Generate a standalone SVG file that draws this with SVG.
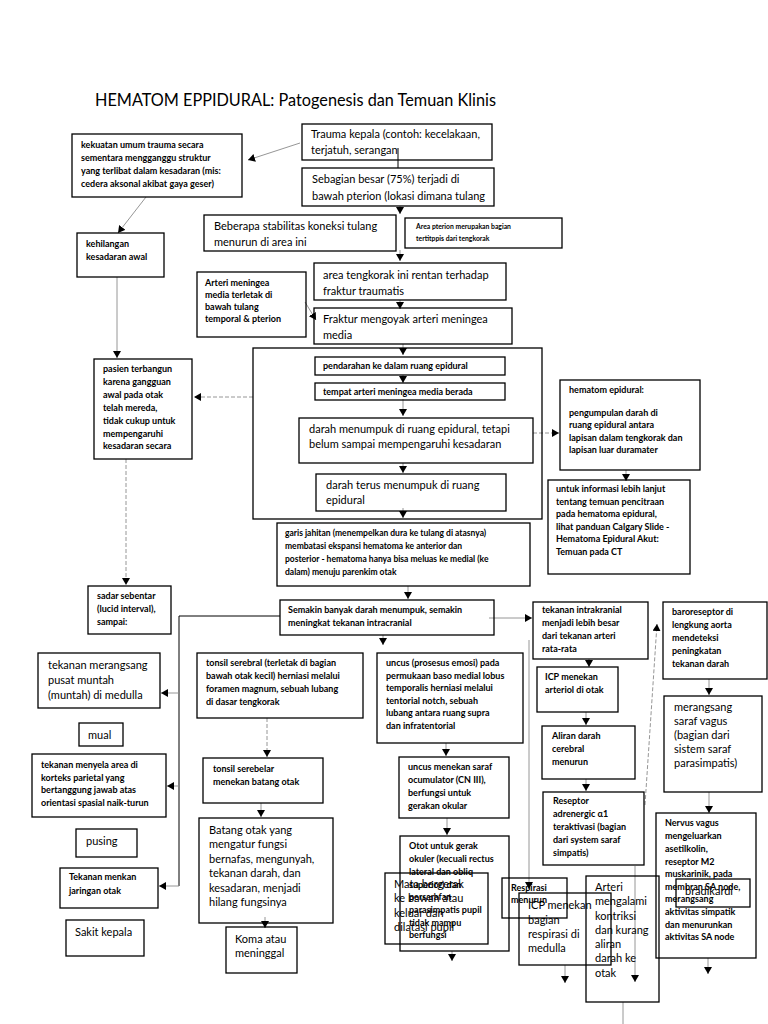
<svg xmlns="http://www.w3.org/2000/svg" width="768" height="1024" viewBox="0 0 768 1024">
<style>
.bx{fill:none;stroke:#000;stroke-width:1.3}
.r{font-family:Lato,"Open Sans","Liberation Sans",sans-serif;font-size:11px;fill:#000}
.b{font-family:Lato,"Open Sans","Liberation Sans",sans-serif;font-size:9px;font-weight:bold;fill:#000}
.c{fill:none;stroke:#8a8a8a;stroke-width:0.9}
.d{fill:none;stroke:#8a8a8a;stroke-width:0.9;stroke-dasharray:4 2}
.k{fill:none;stroke:#000;stroke-width:1}
</style>
<defs>
<marker id="ah" markerUnits="userSpaceOnUse" markerWidth="8" markerHeight="8" refX="7" refY="4" orient="auto"><path d="M0,0 L7,4 L0,8 z" fill="#000"/></marker>
</defs>
<rect width="768" height="1024" fill="#fff"/>
<text x="95" y="106" font-family="Lato,'Open Sans','Liberation Sans',sans-serif" font-size="17" fill="#000" textLength="401" lengthAdjust="spacingAndGlyphs">HEMATOM EPPIDURAL: Patogenesis dan Temuan Klinis</text>

<g id="connectors">
<path class="c" d="M300,143 L248,160" marker-end="url(#ah)"/>
<path class="c" d="M146,197 L118,233" marker-end="url(#ah)"/>
<path class="k" d="M398,148 L398,168"/>
<path class="c" d="M400,206 L400,214" marker-end="url(#ah)"/>
<path class="c" d="M400,250 L400,261" marker-end="url(#ah)"/>
<path class="c" d="M400,300 L400,309" marker-end="url(#ah)"/>
<path class="c" d="M403,344 L403,355" marker-end="url(#ah)"/>
<path class="c" d="M403,375 L403,383" marker-end="url(#ah)"/>
<path class="c" d="M403,399 L403,416" marker-end="url(#ah)"/>
<path class="c" d="M403,463 L403,473" marker-end="url(#ah)"/>
<path class="c" d="M403,508 L403,518" marker-end="url(#ah)"/>
<path class="c" d="M305,302 L316,320" marker-end="url(#ah)"/>
<path class="d" d="M253,397 L194,397" marker-end="url(#ah)"/>
<path class="d" d="M533,433 L559,433" marker-end="url(#ah)"/>
<path class="c" d="M626,470 L626,481" marker-end="url(#ah)"/>
<path class="c" d="M117,277 L117,358" marker-end="url(#ah)"/>
<path class="d" d="M126,459 L126,585" marker-end="url(#ah)"/>
<path class="c" d="M408,586 L408,599" marker-end="url(#ah)"/>
<path class="k" d="M280,616 L179,616 L179,886"/>
<path class="c" d="M179,693 L161,693" marker-end="url(#ah)"/>
<path class="c" d="M179,786 L167,786" marker-end="url(#ah)"/>
<path class="c" d="M179,886 L159,886" marker-end="url(#ah)"/>
<path class="c" d="M489,618 L532,618" marker-end="url(#ah)"/>
<path class="c" d="M383,635 L383,645" marker-end="url(#ah)"/>
<path class="d" d="M267,718 L267,757" marker-end="url(#ah)"/>
<path class="c" d="M446,743 L446,756" marker-end="url(#ah)"/>
<path class="c" d="M261,803 L261,817" marker-end="url(#ah)"/>
<path class="c" d="M265,917 L265,928" marker-end="url(#ah)"/>
<path class="c" d="M447,818 L447,835" marker-end="url(#ah)"/>
<path class="c" d="M452,951 L452,961" marker-end="url(#ah)"/>
<path class="c" d="M589,659 L589,667" marker-end="url(#ah)"/>
<path class="c" d="M586,712 L586,725" marker-end="url(#ah)"/>
<path class="c" d="M586,779 L586,791" marker-end="url(#ah)"/>
<path class="d" d="M645,805 L657,624" marker-end="url(#ah)"/>
<path class="c" d="M709,679 L709,695" marker-end="url(#ah)"/>
<path class="c" d="M709,792 L709,813" marker-end="url(#ah)"/>
<path class="c" d="M708,958 L708,974" marker-end="url(#ah)"/>
<path class="c" d="M529,640 L529,889" marker-end="url(#ah)"/>
<path class="c" d="M565,965 L565,983" marker-end="url(#ah)"/>
<path class="c" d="M635,866 L635,982" marker-end="url(#ah)"/>
<path class="c" d="M623,1002 L623,1024"/>
</g>

<g id="n-kekuatan"><rect class="bx" x="72" y="134" width="170" height="63"/>
<text class="b"><tspan x="81" y="148">kekuatan umum trauma secara</tspan><tspan x="81" y="161">sementara mengganggu struktur</tspan><tspan x="81" y="174">yang terlibat dalam kesadaran (mis:</tspan><tspan x="81" y="187">cedera aksonal akibat gaya geser)</tspan></text></g>

<g id="n-trauma"><rect class="bx" x="302" y="124" width="190" height="36"/>
<text class="r"><tspan x="311" y="138">Trauma kepala (contoh: kecelakaan,</tspan><tspan x="311" y="154">terjatuh, serangan</tspan></text></g>

<g id="n-sebagian"><rect class="bx" x="302" y="168" width="192" height="38"/>
<text class="r"><tspan x="312" y="183">Sebagian besar (75%) terjadi di</tspan><tspan x="312" y="200">bawah pterion (lokasi dimana tulang</tspan></text></g>

<g id="n-beberapa"><rect class="bx" x="204" y="215" width="192" height="36"/>
<text class="r"><tspan x="214" y="230">Beberapa stabilitas koneksi tulang</tspan><tspan x="214" y="246">menurun di area ini</tspan></text></g>

<g id="n-areapterion"><rect class="bx" x="405" y="218" width="157" height="30"/>
<text class="b" style="font-size:6.8px"><tspan x="416" y="229">Area pterion merupakan bagian</tspan><tspan x="416" y="241">tertitppis dari tengkorak</tspan></text></g>

<g id="n-areatengkorak"><rect class="bx" x="314" y="263" width="192" height="37"/>
<text class="r"><tspan x="323" y="279">area tengkorak ini rentan terhadap</tspan><tspan x="323" y="295">fraktur traumatis</tspan></text></g>

<g id="n-fraktur"><rect class="bx" x="314" y="308" width="198" height="36"/>
<text class="r"><tspan x="323" y="323">Fraktur mengoyak arteri meningea</tspan><tspan x="323" y="339">media</tspan></text></g>

<g id="n-arteri"><rect class="bx" x="197" y="272" width="109" height="65"/>
<text class="b"><tspan x="205" y="286">Arteri meningea</tspan><tspan x="205" y="298">media terletak di</tspan><tspan x="205" y="310">bawah tulang</tspan><tspan x="205" y="322">temporal &amp; pterion</tspan></text></g>

<g id="n-kehilangan"><rect class="bx" x="77" y="233" width="87" height="44"/>
<text class="b"><tspan x="86" y="247">kehilangan</tspan><tspan x="86" y="260">kesadaran awal</tspan></text></g>

<g id="n-container"><rect class="bx" x="253" y="348" width="289" height="171"/></g>

<g id="n-pendarahan"><rect class="bx" x="315" y="357" width="190" height="18"/>
<text class="b"><tspan x="323" y="369">pendarahan ke dalam ruang epidural</tspan></text></g>

<g id="n-tempat"><rect class="bx" x="315" y="383" width="190" height="17"/>
<text class="b"><tspan x="323" y="395">tempat arteri meningea media berada</tspan></text></g>

<g id="n-darahmenumpuk"><rect class="bx" x="299" y="418" width="234" height="45"/>
<text class="r"><tspan x="309" y="433">darah menumpuk di ruang epidural, tetapi</tspan><tspan x="309" y="448">belum sampai mempengaruhi kesadaran</tspan></text></g>

<g id="n-darahterus"><rect class="bx" x="316" y="474" width="190" height="37"/>
<text class="r"><tspan x="326" y="489">darah terus menumpuk di ruang</tspan><tspan x="326" y="504">epidural</tspan></text></g>

<g id="n-hematom"><rect class="bx" x="560" y="380" width="140" height="90"/>
<text class="b"><tspan x="569" y="393">hematom epidural:</tspan><tspan x="569" y="416">pengumpulan darah di</tspan><tspan x="569" y="428">ruang epidural antara</tspan><tspan x="569" y="441">lapisan dalam tengkorak dan</tspan><tspan x="569" y="453">lapisan luar duramater</tspan></text></g>

<g id="n-untuk"><rect class="bx" x="548" y="480" width="142" height="94"/>
<text class="b"><tspan x="556" y="492">untuk informasi lebih lanjut</tspan><tspan x="556" y="505">tentang temuan pencitraan</tspan><tspan x="556" y="517">pada hematoma epidural,</tspan><tspan x="556" y="530">lihat panduan Calgary Slide -</tspan><tspan x="556" y="542">Hematoma Epidural Akut:</tspan><tspan x="556" y="555">Temuan pada CT</tspan></text></g>

<g id="n-pasien"><rect class="bx" x="94" y="359" width="98" height="100"/>
<text class="b"><tspan x="103" y="372">pasien terbangun</tspan><tspan x="103" y="385">karena gangguan</tspan><tspan x="103" y="398">awal pada otak</tspan><tspan x="103" y="411">telah mereda,</tspan><tspan x="103" y="424">tidak cukup untuk</tspan><tspan x="103" y="437">mempengaruhi</tspan><tspan x="103" y="449">kesadaran secara</tspan></text></g>

<g id="n-garis"><rect class="bx" x="277" y="523" width="253" height="63"/>
<text class="b" style="font-size:8.5px"><tspan x="285" y="536">garis jahitan (menempelkan dura ke tulang di atasnya)</tspan><tspan x="285" y="549">membatasi ekspansi hematoma ke anterior dan</tspan><tspan x="285" y="562">posterior - hematoma hanya bisa meluas ke medial (ke</tspan><tspan x="285" y="575">dalam) menuju parenkim otak</tspan></text></g>

<g id="n-sadar"><rect class="bx" x="88" y="586" width="83" height="48"/>
<text class="b"><tspan x="97" y="599">sadar sebentar</tspan><tspan x="97" y="612">(lucid interval),</tspan><tspan x="97" y="625">sampai:</tspan></text></g>

<g id="n-semakin"><rect class="bx" x="280" y="600" width="214" height="35"/>
<text class="b"><tspan x="288" y="613">Semakin banyak darah menumpuk, semakin</tspan><tspan x="288" y="626">meningkat tekanan intracranial</tspan></text></g>

<g id="n-tonsilserebral"><rect class="bx" x="197" y="653" width="166" height="65"/>
<text class="b"><tspan x="206" y="666">tonsil serebral (terletak di bagian</tspan><tspan x="206" y="679">bawah otak kecil) herniasi melalui</tspan><tspan x="206" y="692">foramen magnum, sebuah lubang</tspan><tspan x="206" y="705">di dasar tengkorak</tspan></text></g>

<g id="n-uncus"><rect class="bx" x="377" y="653" width="146" height="90"/>
<text class="b"><tspan x="386" y="666">uncus (prosesus emosi) pada</tspan><tspan x="386" y="679">permukaan baso medial lobus</tspan><tspan x="386" y="691">temporalis herniasi melalui</tspan><tspan x="386" y="704">tentorial notch, sebuah</tspan><tspan x="386" y="716">lubang antara ruang supra</tspan><tspan x="386" y="729">dan infratentorial</tspan></text></g>

<g id="n-tekananintra"><rect class="bx" x="533" y="602" width="115" height="57"/>
<text class="b"><tspan x="542" y="613">tekanan intrakranial</tspan><tspan x="542" y="626">menjadi lebih besar</tspan><tspan x="542" y="639">dari tekanan arteri</tspan><tspan x="542" y="652">rata-rata</tspan></text></g>

<g id="n-baroreseptor"><rect class="bx" x="663" y="602" width="104" height="77"/>
<text class="b"><tspan x="672" y="615">baroreseptor di</tspan><tspan x="672" y="628">lengkung aorta</tspan><tspan x="672" y="641">mendeteksi</tspan><tspan x="672" y="654">peningkatan</tspan><tspan x="672" y="667">tekanan darah</tspan></text></g>

<g id="n-muntah"><rect class="bx" x="38" y="653" width="122" height="55"/>
<text class="r"><tspan x="48" y="669">tekanan merangsang</tspan><tspan x="48" y="684">pusat muntah</tspan><tspan x="48" y="699">(muntah) di medulla</tspan></text></g>

<g id="n-mual"><rect class="bx" x="79" y="723" width="44" height="23"/>
<text class="r"><tspan x="88" y="739">mual</tspan></text></g>

<g id="n-icparteriol"><rect class="bx" x="537" y="667" width="81" height="45"/>
<text class="b"><tspan x="545" y="680">ICP menekan</tspan><tspan x="545" y="693">arteriol di otak</tspan></text></g>

<g id="n-merangsang"><rect class="bx" x="664" y="696" width="98" height="96"/>
<text class="r"><tspan x="674" y="711">merangsang</tspan><tspan x="674" y="725">saraf vagus</tspan><tspan x="674" y="739">(bagian dari</tspan><tspan x="674" y="753">sistem saraf</tspan><tspan x="674" y="767">parasimpatis)</tspan></text></g>

<g id="n-menyela"><rect class="bx" x="32" y="754" width="134" height="63"/>
<text class="b"><tspan x="41" y="768">tekanan menyela area di</tspan><tspan x="41" y="781">korteks parietal yang</tspan><tspan x="41" y="793">bertanggung jawab atas</tspan><tspan x="41" y="806">orientasi spasial naik-turun</tspan></text></g>

<g id="n-tonsilserebelar"><rect class="bx" x="203" y="758" width="120" height="45"/>
<text class="b"><tspan x="213" y="772">tonsil serebelar</tspan><tspan x="213" y="785">menekan batang otak</tspan></text></g>

<g id="n-uncusmenekan"><rect class="bx" x="399" y="757" width="110" height="61"/>
<text class="b"><tspan x="408" y="770">uncus menekan saraf</tspan><tspan x="408" y="783">ocumulator (CN III),</tspan><tspan x="408" y="796">berfungsi untuk</tspan><tspan x="408" y="809">gerakan okular</tspan></text></g>

<g id="n-aliran"><rect class="bx" x="542" y="726" width="93" height="53"/>
<text class="b"><tspan x="552" y="739">Aliran darah</tspan><tspan x="552" y="752">cerebral</tspan><tspan x="552" y="765">menurun</tspan></text></g>

<g id="n-pusing"><rect class="bx" x="76" y="829" width="61" height="28"/>
<text class="r"><tspan x="86" y="845">pusing</tspan></text></g>

<g id="n-batang"><rect class="bx" x="199" y="818" width="134" height="105"/>
<text class="r"><tspan x="209" y="834">Batang otak yang</tspan><tspan x="209" y="848">mengatur fungsi</tspan><tspan x="209" y="863">bernafas, mengunyah,</tspan><tspan x="209" y="877">tekanan darah, dan</tspan><tspan x="209" y="892">kesadaran, menjadi</tspan><tspan x="209" y="906">hilang fungsinya</tspan></text></g>

<g id="n-reseptor"><rect class="bx" x="543" y="792" width="101" height="73"/>
<text class="b"><tspan x="553" y="804">Reseptor</tspan><tspan x="553" y="817">adrenergic α1</tspan><tspan x="553" y="830">teraktivasi (bagian</tspan><tspan x="553" y="843">dari system saraf</tspan><tspan x="553" y="856">simpatis)</tspan></text></g>

<g id="n-otot"><rect class="bx" x="400" y="836" width="109" height="115"/>
<text class="b"><tspan x="409" y="849">Otot untuk gerak</tspan><tspan x="409" y="862">okuler (kecuali rectus</tspan><tspan x="409" y="875">lateral dan obliq</tspan><tspan x="409" y="888">superior) dan</tspan><tspan x="409" y="900">persarafan</tspan><tspan x="409" y="913">parasimpatis pupil</tspan><tspan x="409" y="926">tidak mampu</tspan><tspan x="409" y="938">berfungsi</tspan></text></g>

<g id="n-mata"><rect class="bx" x="385" y="873" width="103" height="71"/>
<text class="r"><tspan x="394" y="888">Mata bergerak</tspan><tspan x="394" y="902">ke bawah atau</tspan><tspan x="394" y="917">keluar dan</tspan><tspan x="394" y="931">dilatasi pupil</tspan></text></g>

<g id="n-nervus"><rect class="bx" x="656" y="813" width="100" height="145"/>
<text class="b"><tspan x="665" y="826">Nervus vagus</tspan><tspan x="665" y="839">mengeluarkan</tspan><tspan x="665" y="852">asetilkolin,</tspan><tspan x="665" y="865">reseptor M2</tspan><tspan x="665" y="877">muskarinik, pada</tspan><tspan x="665" y="890">membran SA node,</tspan><tspan x="665" y="902">merangsang</tspan><tspan x="665" y="915">aktivitas simpatik</tspan><tspan x="665" y="928">dan menurunkan</tspan><tspan x="665" y="940">aktivitas SA node</tspan></text></g>

<g id="n-bradikardi"><rect class="bx" x="676" y="879" width="74" height="28"/>
<text class="r"><tspan x="685" y="895">bradikardi</tspan></text></g>

<g id="n-tekananmenkan"><rect class="bx" x="60" y="868" width="98" height="40"/>
<text class="b"><tspan x="69" y="880">Tekanan menkan</tspan><tspan x="69" y="894">jaringan otak</tspan></text></g>

<g id="n-respirasi"><rect class="bx" x="502" y="878" width="65" height="40"/>
<text class="b"><tspan x="511" y="891">Respirasi</tspan><tspan x="511" y="903">menurun</tspan></text></g>

<g id="n-icprespirasi"><rect class="bx" x="519" y="893" width="92" height="72"/>
<text class="r"><tspan x="528" y="909">ICP menekan</tspan><tspan x="528" y="924">bagian</tspan><tspan x="528" y="938">respirasi di</tspan><tspan x="528" y="952">medulla</tspan></text></g>

<g id="n-arterimengalami"><rect class="bx" x="586" y="876" width="73" height="126"/>
<text class="r"><tspan x="595" y="891">Arteri</tspan><tspan x="595" y="905">mengalami</tspan><tspan x="595" y="920">kontriksi</tspan><tspan x="595" y="934">dan kurang</tspan><tspan x="595" y="948">aliran</tspan><tspan x="595" y="962">darah ke</tspan><tspan x="595" y="977">otak</tspan></text></g>

<g id="n-sakit"><rect class="bx" x="66" y="920" width="78" height="36"/>
<text class="r"><tspan x="75" y="936">Sakit kepala</tspan></text></g>

<g id="n-koma"><rect class="bx" x="226" y="927" width="71" height="46"/>
<text class="r"><tspan x="235" y="943">Koma atau</tspan><tspan x="235" y="957">meninggal</tspan></text></g>
</svg>
